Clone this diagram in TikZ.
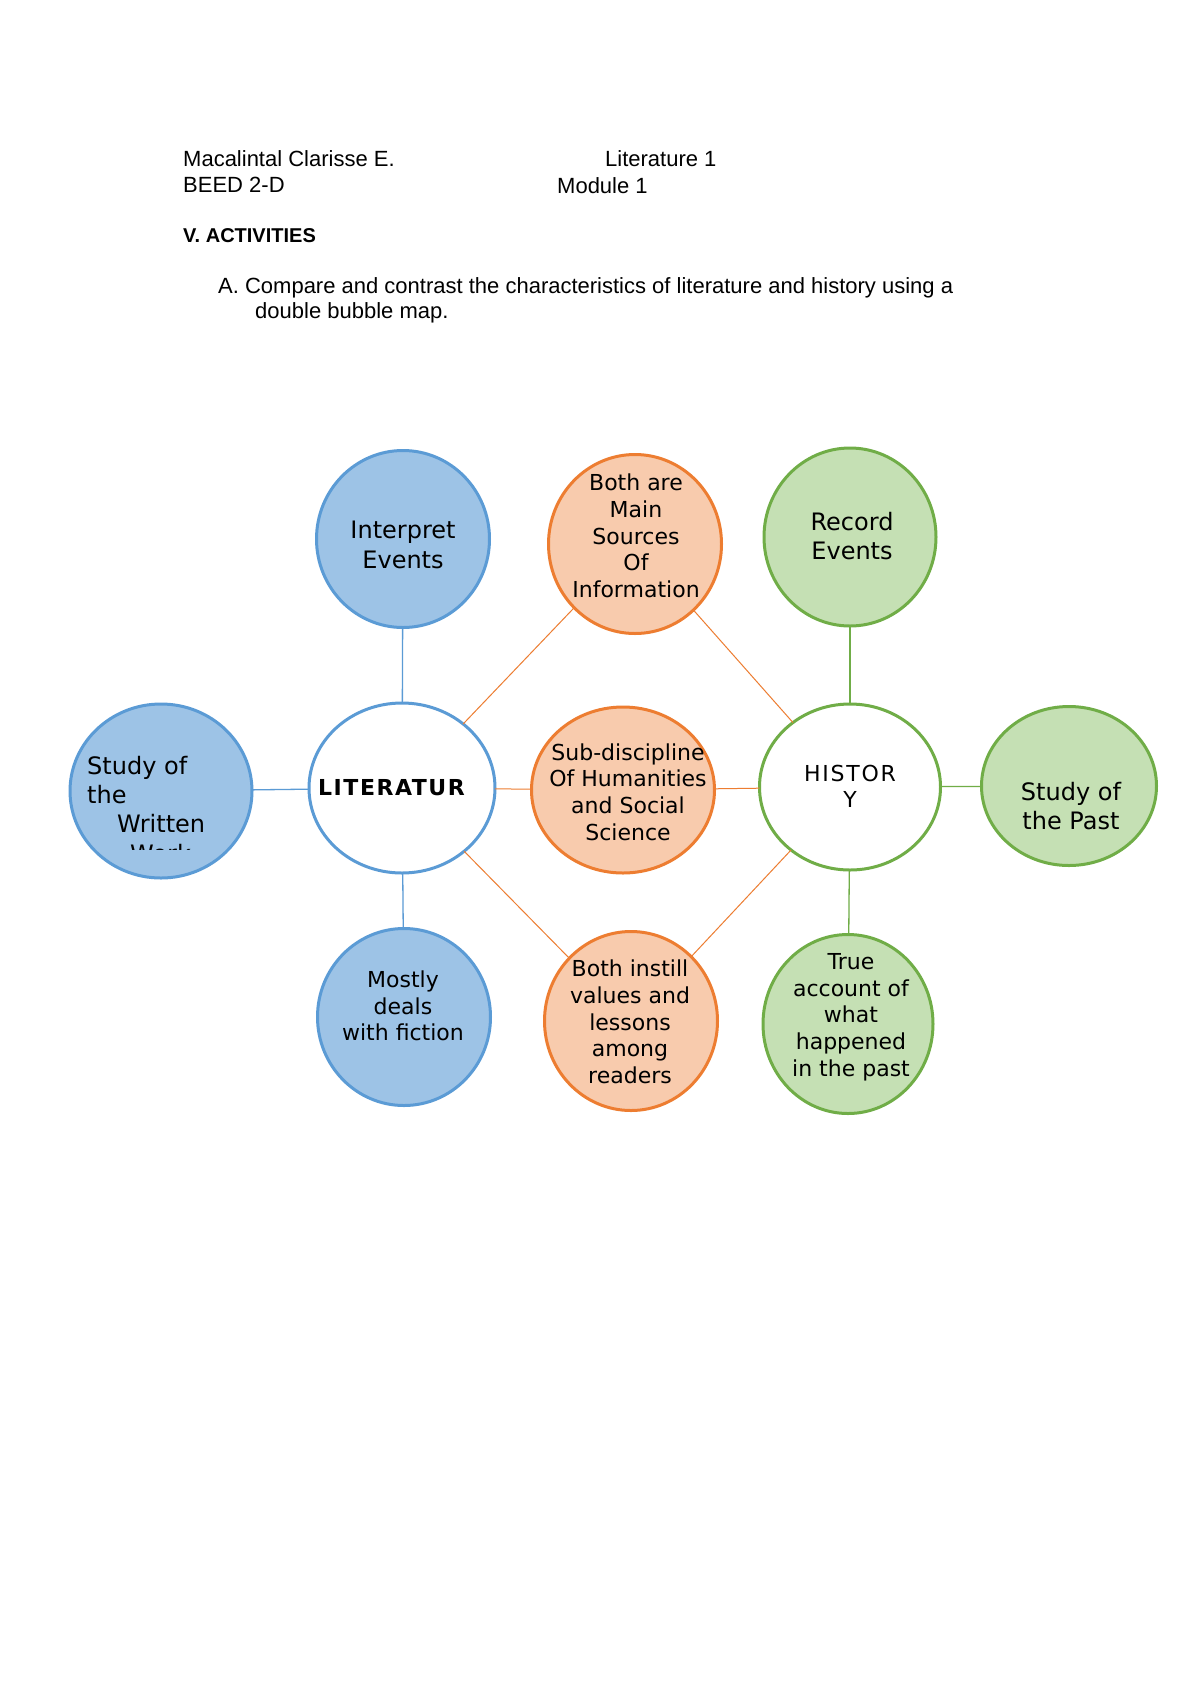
\documentclass[tikz,border=0pt]{standalone}
\usepackage{fontspec}
\setmainfont{Liberation Sans}
\newfontfamily\bubfont{DejaVu Sans}
\newfontfamily\bubwide[LetterSpace=8]{DejaVu Sans}
\newfontfamily\bubbold[LetterSpace=7]{DejaVu Sans Bold}
\usetikzlibrary{shapes.geometric}
\definecolor{bluefill}{HTML}{9DC3E6}
\definecolor{blueline}{HTML}{5B9BD5}
\definecolor{orfill}{HTML}{F8CBAD}
\definecolor{orline}{HTML}{ED7D31}
\definecolor{grfill}{HTML}{C5E0B4}
\definecolor{grline}{HTML}{70AD47}
\begin{document}
\begin{tikzpicture}[x=1pt,y=-1pt,
  bubble/.style n args={2}{ellipse, line width=3pt, inner sep=0pt, outer sep=0pt,
    minimum width=#1, minimum height=#2},
  bluebub/.style={fill=bluefill, draw=blueline},
  orbub/.style={fill=orfill, draw=orline},
  grbub/.style={fill=grfill, draw=grline},
  whiteblue/.style={fill=white, draw=blueline},
  whitegreen/.style={fill=white, draw=grline},
  bigtxt/.style={align=center, inner sep=0pt, font=\bubfont\fontsize{24}{29.5}\selectfont},
  medtxt/.style={align=center, inner sep=0pt, font=\bubfont\fontsize{22}{26.7}\selectfont},
  head/.style={anchor=base west, inner sep=0pt, font=\fontsize{22}{26}\selectfont},
  bluecon/.style={draw=blueline, line width=1.3pt},
  orcon/.style={draw=orline, line width=1pt},
  grcon/.style={draw=grline, line width=1.3pt}]
\useasboundingbox[fill=white] (0,0) rectangle (1200,1698);

% header
\node[head] (h1) at (183,166) {Macalintal Clarisse E.};
\node[head] (h2) at (605,166) {Literature 1};
\node[head] (h3) at (183,192) {BEED 2-D};
\node[head] (h4) at (557,193) {Module 1};
\node[head, font=\fontsize{20}{24}\selectfont\bfseries] (h5) at (183,242) {V. ACTIVITIES};
\node[head] (h6) at (218,293) {A. Compare and contrast the characteristics of literature and history using a};
\node[head] (h7) at (255,318) {double bubble map.};

% bubbles
\node[bubble={173}{177}, bluebub] (interp) at (403,539) {};
\node[bubble={173}{179}, orbub] (bm) at (635,544) {};
\node[bubble={172}{178}, grbub] (rec) at (850,537) {};
\node[bubble={182}{174}, bluebub] (wr) at (161,791) {};
\node[bubble={186}{170}, whiteblue] (lit) at (402,788) {};
\node[bubble={183}{166}, orbub] (sub) at (623,790) {};
\node[bubble={181}{166}, whitegreen] (hist) at (850,787) {};
\node[bubble={175}{159}, grbub] (past) at (1069,786) {};
\node[bubble={173}{177}, bluebub] (mostly) at (404,1017) {};
\node[bubble={173}{179}, orbub] (bi) at (631,1021) {};
\node[bubble={170}{179}, grbub] (true) at (848,1024) {};

% connectors
\draw[bluecon] (interp) -- (lit);
\draw[bluecon] (lit) -- (mostly);
\draw[bluecon] (wr) -- (lit);
\draw[orcon] (lit) -- (sub);
\draw[orcon] (sub) -- (hist);
\draw[orcon] (lit) -- (bm);
\draw[orcon] (bm) -- (hist);
\draw[orcon] (lit) -- (bi);
\draw[orcon] (bi) -- (hist);
\draw[grcon] (hist) -- (past);
\draw[grcon] (rec) -- (hist);
\draw[grcon] (hist) -- (true);

% bubble texts
\node[bigtxt] (tinterp) at (403,545) {Interpret\\Events};
\node[bigtxt] (trec) at (852,536) {Record\\Events};
\node[bigtxt] (tpast) at (1071,806) {Study of\\the Past};
\node[medtxt] (tbm) at (636,536) {Both are\\Main\\Sources\\Of\\Information};
\node[medtxt] (tsub) at (628,792) {Sub-discipline\\Of Humanities\\and Social\\Science};
\node[medtxt] (tmostly) at (403,1006) {Mostly\\deals\\with fiction};
\node[medtxt] (tbi) at (630,1022) {Both instill\\values and\\lessons\\among\\readers};
\node[medtxt] (ttrue) at (851,1017) {True\\account of\\what\\happened\\in the past};
\node[inner sep=0pt, font=\bubbold\fontsize{22}{26}\selectfont, anchor=west] (tlit) at (318,788) {LITERATUR};
\node[align=center, inner sep=0pt, font=\bubwide\fontsize{22}{26}\selectfont] (thist) at (850,786) {HISTOR\\Y};
\node[anchor=base west, inner sep=0pt, font=\bubfont\fontsize{24}{29.5}\selectfont] (w1) at (87,774) {Study of};
\node[anchor=base west, inner sep=0pt, font=\bubfont\fontsize{24}{29.5}\selectfont] (w2) at (87,803) {the};
\node[anchor=base west, inner sep=0pt, font=\bubfont\fontsize{24}{29.5}\selectfont] (w3) at (117,832) {Written};
\begin{scope}
\clip (0,0) rectangle (1200,849);
\node[anchor=base west, inner sep=0pt, font=\bubfont\fontsize{24}{29.5}\selectfont] (w4) at (130,862) {Work};
\end{scope}
\end{tikzpicture}
\end{document}
